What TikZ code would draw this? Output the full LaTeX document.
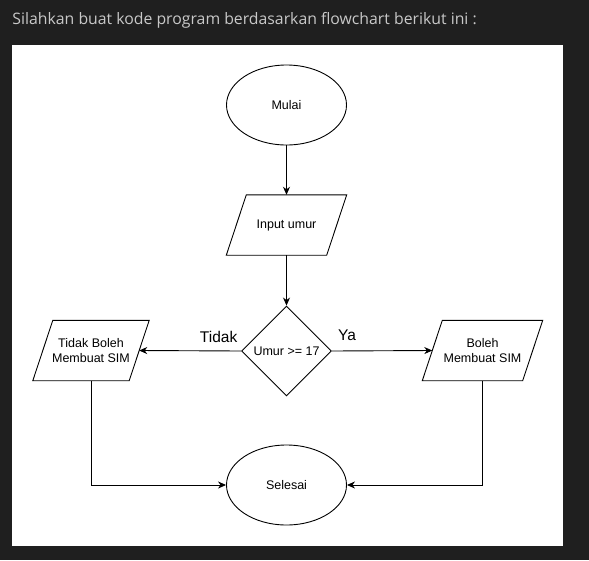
\documentclass[tikz,border=0pt]{standalone}
\usepackage{fontspec}
\setmainfont{Liberation Sans}
\newfontfamily\headfont{Open Sans}
\usetikzlibrary{shapes.geometric,arrows.meta}

\definecolor{bgdark}{HTML}{1F1F1F}
\definecolor{headgray}{HTML}{C8C8C8}

\tikzset{
  terminal/.style={draw, ellipse, line width=0.9pt, minimum width=120pt, minimum height=80pt, inner sep=0pt, font=\fontsize{12.5}{15}\selectfont},
  io/.style={rectangle, minimum width=100pt, minimum height=60pt, inner sep=0pt, align=center, font=\fontsize{12.5}{15}\selectfont},
  ioline/.style={line width=0.9pt, line join=miter},
  decision/.style={draw, diamond, line width=0.9pt, minimum width=90pt, minimum height=90pt, inner sep=0pt, font=\fontsize{12.5}{15}\selectfont},
  flow/.style={line width=0.9pt, -{Stealth[length=8pt, width=7pt, inset=2.5pt]}},
  branch/.style={font=\fontsize{15.5}{18}\selectfont, inner sep=0pt}
}

\begin{document}
\begin{tikzpicture}[x=1pt, y=-1pt]
  \useasboundingbox (0,0) rectangle (589,560);
  \fill[bgdark] (0,0) rectangle (589,560);
  \fill[white] (12.3,45) rectangle (563,545.7);
  \node[anchor=base west, inner sep=0pt, text=headgray, font=\headfont\fontsize{15.8}{19}\selectfont] (judul) at (12.3,24) {Silahkan buat kode program berdasarkan flowchart berikut ini :};

  % bentuk
  \node[terminal] (mulai) at (286.5,105) {Mulai};
  \node[io] (input) at (286.5,225) {Input umur};
  \node[decision] (cek) at (286.5,351) {Umur >= 17};
  \node[io, minimum width=96pt] (tidak) at (91,350.5) {Tidak Boleh\\Membuat SIM};
  \node[io] (boleh) at (482.5,350.5) {Boleh\\Membuat SIM};
  \node[terminal] (selesai) at (286.5,485) {Selesai};

  % jajaran genjang
  \foreach \n in {input,tidak,boleh}
    \draw[ioline] ([xshift=10pt]\n.north west) -- ([xshift=10pt]\n.north east) -- ([xshift=-10pt]\n.south east) -- ([xshift=-10pt]\n.south west) -- cycle;

  % garis
  \draw[flow] (mulai) -- (input);
  \draw[flow] (input) -- (cek);
  \draw[flow] (cek.west) -- (tidak.east) node[branch, pos=0.22, above=8pt] {Tidak};
  \draw[flow] (cek.east) -- (boleh.west) node[branch, pos=0.15, above=10pt] {Ya};
  \draw[flow] (tidak.south) |- (selesai.west);
  \draw[flow] (boleh.south) |- (selesai.east);
\end{tikzpicture}
\end{document}
